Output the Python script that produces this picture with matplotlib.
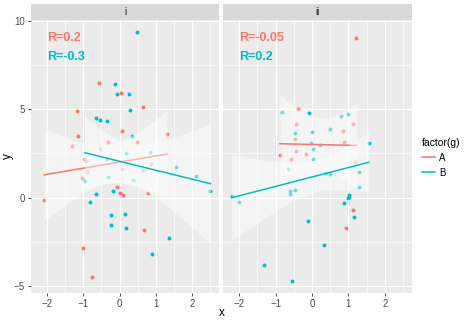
import numpy as np
import matplotlib
matplotlib.use("Agg")
import matplotlib.pyplot as plt
from matplotlib.lines import Line2D

plt.rcParams['font.family'] = ['Liberation Sans', 'DejaVu Sans']

# panel "i"
i_a_x = [-0.58, 0.04, -1.17, 0.65, 0.06, -1.15, 1.31, -1.31, -0.32, 0.48, -0.55, -0.98, -0.92,
         0.88, 0.07, -0.90, -1.04, -0.07, 0.01, 0.09, 0.79, -2.08, 0.68, -1.00, -0.75]
i_a_y = [6.50, 5.92, 4.88, 5.14, 3.76, 3.47, 3.60, 2.95, 3.15, 3.15, 2.74, 2.20, 2.05,
         1.93, 1.65, 1.46, 1.09, 0.62, 0.26, 0.17, 0.28, -0.13, -1.82, -2.85, -4.45]
i_b_x = [0.48, -0.13, -0.07, 0.26, 0.29, -0.64, -0.55, -0.34, 0.34, 0.17, 0.85, 0.65, 1.57, 2.12,
         -0.96, -0.32, 0.38, 2.51, -0.19, -0.65, -0.83, -0.25, 0.15, -0.25, 0.18, 1.37, 0.90, -0.35]
i_b_y = [9.34, 6.42, 5.88, 5.84, 4.97, 4.50, 4.39, 4.32, 3.51, 2.54, 2.61, 1.58, 1.73, 1.24,
         0.94, 1.17, 1.01, 0.39, 0.38, 0.21, -0.24, -0.98, -0.94, -1.52, -1.69, -2.29, -3.17, 2.18]

# panel "ii"
ii_a_x = [1.22, -0.38, -0.43, 1.12, 0.85, -0.46, 0.87, -0.88, -0.57, -0.16, -0.45, 1.13, 0.92,
          1.18]
ii_a_y = [9.05, 5.01, 4.19, 4.15, 3.76, 3.31, 3.15, 2.40, 2.18, 2.48, 2.66, -0.69, -1.69,
          2.02]
ii_b_x = [-0.83, -0.08, 0.80, 0.99, 0.50, -0.47, 0.00, -0.04, 0.23, 1.56, 0.04, 0.04, -0.67, 0.50,
          0.39, 1.30, 1.30, -0.60, -0.47, -0.60, -2.21, -2.02, 1.02, 1.01, 0.99, 0.89, 1.16,
          -0.10, 0.34, -1.33, -0.55]
ii_b_y = [4.86, 4.79, 4.64, 4.75, 3.90, 3.64, 3.72, 3.12, 3.00, 3.12, 2.76, 2.18, 1.62, 1.32,
          1.39, 1.43, 0.58, 0.39, 0.43, 0.19, 0.10, -0.24, 0.17, 0.07, -0.02, -0.30, -1.09,
          -1.33, -2.65, -3.81, -4.68]

panels = ["i", "ii"]
groups = ["A", "B"]
r_labels = {"i": ["R=0.2", "R=-0.3"], "ii": ["R=-0.05", "R=0.2"]}
data = {
    "i": [(i_a_x, i_a_y), (i_b_x, i_b_y)],
    "ii": [(ii_a_x, ii_a_y), (ii_b_x, ii_b_y)],
}
colors = ["#F8766D", "#00BFC4"]


def t975(df):
    # Cornish-Fisher expansion of the t quantile
    z = 1.959964
    return (z + (z**3 + z) / (4 * df) + (5 * z**5 + 16 * z**3 + 3 * z) / (96 * df**2)
            + (3 * z**7 + 19 * z**5 + 17 * z**3 - 15 * z) / (384 * df**3))


def lm_band(x, y, n=80):
    x = np.asarray(x)
    y = np.asarray(y)
    slope, icpt = np.polyfit(x, y, 1)
    xs = np.linspace(x.min(), x.max(), n)
    fit = icpt + slope * xs
    resid = y - (icpt + slope * x)
    df = len(x) - 2
    s = np.sqrt(np.sum(resid**2) / df)
    sxx = np.sum((x - x.mean())**2)
    se = s * np.sqrt(1 / len(x) + (xs - x.mean())**2 / sxx)
    w = t975(df) * se
    return xs, fit, fit - w, fit + w


allx = np.concatenate([np.concatenate([np.asarray(g[0]) for g in data[p]]) for p in panels])
ally = np.concatenate([np.concatenate([np.asarray(g[1]) for g in data[p]]) for p in panels])
xpad = 0.05 * (allx.max() - allx.min())
ypad = 0.05 * (ally.max() - ally.min())
xlim = (allx.min() - xpad, allx.max() + xpad)
ylim = (ally.min() - ypad, ally.max() + ypad)

W, H = 474, 322
fig = plt.figure(figsize=(W / 100, H / 100), dpi=100)
fig.patch.set_facecolor("white")

panel_left = [31, 223]
panel_w = [188, 189]
top_px, bottom_px, strip_px = 20, 293, 16

for k, p in enumerate(panels):
    rect = [panel_left[k] / W, 1 - bottom_px / H, panel_w[k] / W, (bottom_px - top_px) / H]
    ax = fig.add_axes(rect)
    ax.set_facecolor("#EBEBEB")
    for s in ax.spines.values():
        s.set_visible(False)
    ax.set_xlim(xlim)
    ax.set_ylim(ylim)
    ax.set_xticks([-2, -1, 0, 1, 2])
    ax.set_yticks([-5, 0, 5, 10])
    ax.set_xticks([-1.5, -0.5, 0.5, 1.5, 2.5], minor=True)
    ax.set_yticks([-2.5, 2.5, 7.5], minor=True)
    ax.grid(True, which="major", color="white", linewidth=0.9)
    ax.grid(True, which="minor", color="white", linewidth=0.45)
    ax.set_axisbelow(True)
    ax.tick_params(which="major", length=2.5, width=0.6, color="#333333",
                   labelsize=7, labelcolor="#4D4D4D", pad=2)
    ax.tick_params(which="minor", length=0)
    if k > 0:
        ax.tick_params(axis="y", which="both", left=False, labelleft=False)

    # points first, smooths on top
    for (gx, gy), c in zip(data[p], colors):
        ax.scatter(gx, gy, s=8, color=c, linewidths=0, zorder=2)
    for (gx, gy), c in zip(data[p], colors):
        xs, fit, lo, hi = lm_band(gx, gy)
        ax.fill_between(xs, lo, hi, color="white", alpha=0.45, linewidth=0, zorder=3)
        ax.plot(xs, fit, color=c, linewidth=1.1, zorder=3)

    for lab, c, yy in zip(r_labels[p], colors, [9.0, 7.95]):
        ax.text(-2.0, yy, lab, color=c, fontsize=9, fontweight="bold",
                ha="left", va="center", zorder=4)

    sax = fig.add_axes([rect[0], 1 - top_px / H, rect[2], strip_px / H])
    sax.set_facecolor("#D9D9D9")
    sax.set_xticks([])
    sax.set_yticks([])
    for s in sax.spines.values():
        s.set_visible(False)
    sax.text(0.5, 0.5, p, ha="center", va="center", fontsize=7, color="#1A1A1A",
             transform=sax.transAxes)

fig.text((31 + 412) / 2 / W, 1 - 313 / H, "x", ha="center", va="center", fontsize=8.5)
fig.text(8 / W, 1 - 156.5 / H, "y", ha="center", va="center", fontsize=8.5, rotation=90)

handles = [Line2D([], [], color=c, linewidth=1.1) for c in colors]
leg = fig.legend(handles, groups, title="factor(g)", loc="upper left",
                 bbox_to_anchor=(417 / W, 1 - 133 / H), frameon=False,
                 fontsize=7, title_fontsize=7.5, handlelength=1.3,
                 handletextpad=0.5, labelspacing=0.5, borderpad=0)
leg._legend_box.align = "left"

fig.savefig("out.png", dpi=100)
